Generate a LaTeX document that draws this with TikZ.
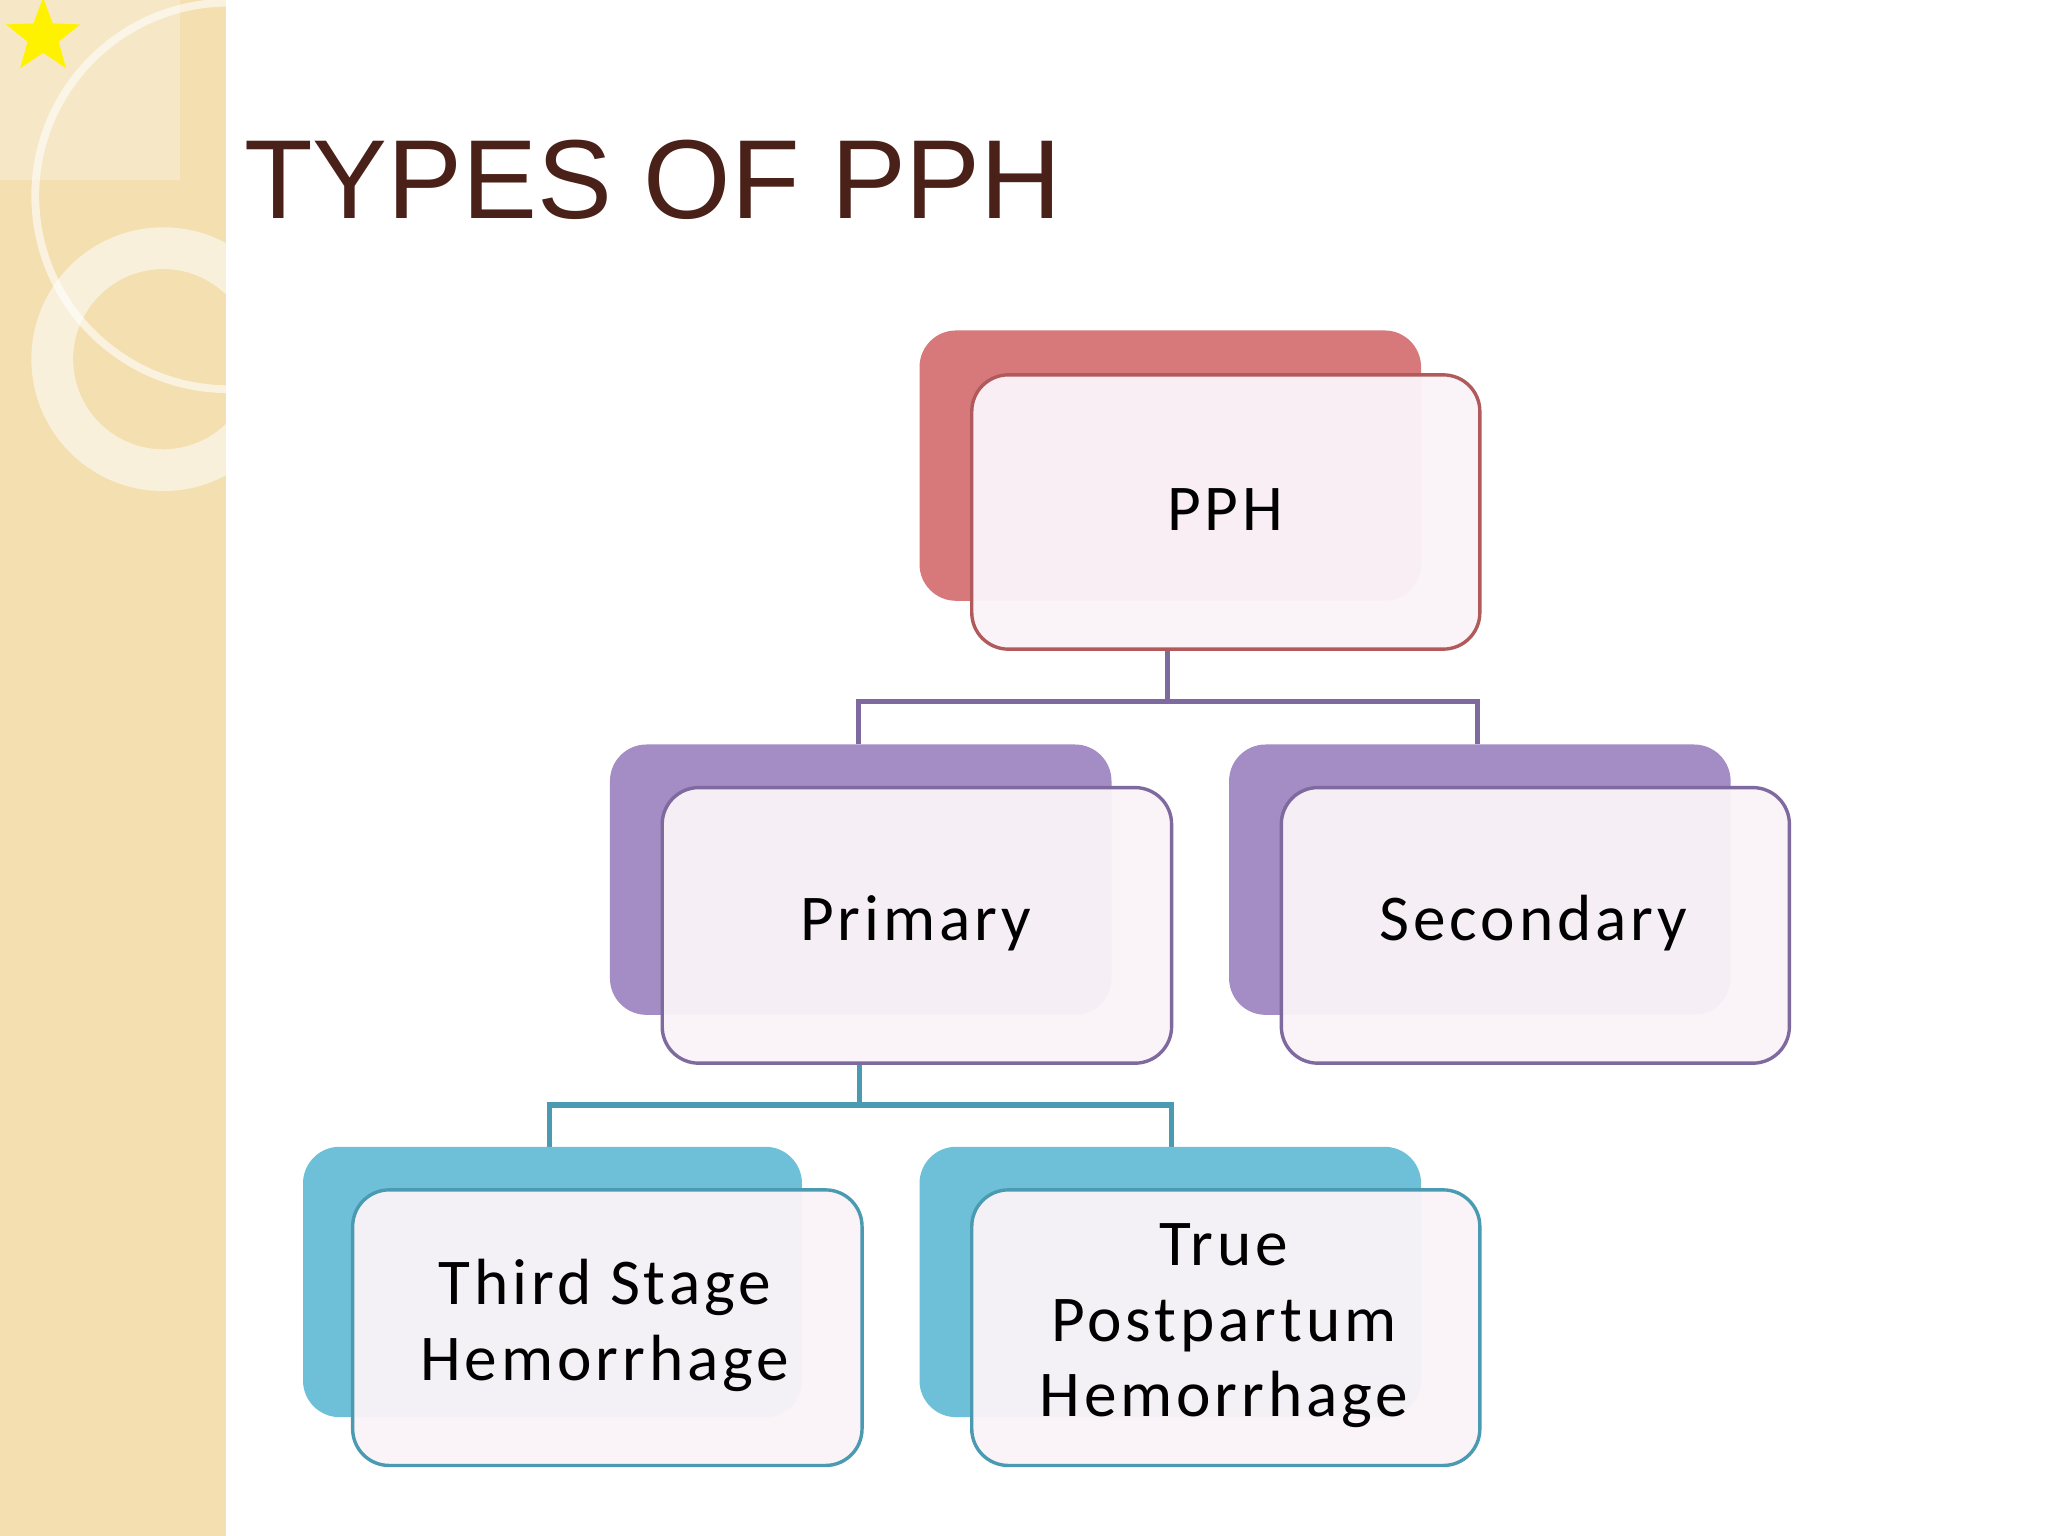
\documentclass[tikz,border=0pt]{standalone}
\usepackage{fontspec}
\setmainfont{Carlito}[LetterSpace=6]
\newfontfamily\titlefont{Liberation Sans}
\usetikzlibrary{shapes.geometric}
\definecolor{beige}{HTML}{F3DFB0}
\definecolor{titlebrown}{HTML}{4A2118}
\definecolor{redb}{HTML}{D7797B}
\definecolor{redo}{HTML}{B05A5C}
\definecolor{purb}{HTML}{A48CC4}
\definecolor{puro}{HTML}{7E6A9E}
\definecolor{blub}{HTML}{6EC0D8}
\definecolor{bluo}{HTML}{4A9AB2}
\definecolor{frontfill}{HTML}{FAF3F8}
\tikzset{
 backbox/.style={rounded corners=14pt},
 frontbox/.style={rounded corners=14pt, line width=1.3pt, fill=frontfill, fill opacity=0.96},
 lbl/.style={font=\fontsize{25}{29}\selectfont, text=black, align=center},
 conn/.style={line width=2pt}
}
\begin{document}
\begin{tikzpicture}[x=0.5pt,y=-0.5pt]
\useasboundingbox (0,0) rectangle (1568,1176);
\fill[white] (0,0) rectangle (1568,1176);
% left panel
\fill[beige] (0,0) rectangle (173,1176);
\fill[white, opacity=0.3] (0,0) rectangle (138,138);
\begin{scope}
\clip (0,0) rectangle (173,1176);
\draw[white, opacity=0.6, line width=3pt] (175,150) circle (148);
\draw[white, opacity=0.55, line width=16pt] (125,275) circle (85);
\end{scope}
\node[star, star points=5, star point ratio=2.4, fill=yellow, minimum size=30pt, inner sep=0] (star) at (33,28) {};
\node[anchor=west, text=titlebrown, font=\titlefont\fontsize{43}{50}\selectfont] (title) at (180,138) {TYPES OF PPH};
% connectors
\coordinate (j1) at (894,537);
\draw[conn, puro] (894,497) -- (j1) (657,570) |- (j1) -| (1131,570);
\coordinate (j2) at (658,846);
\draw[conn, bluo] (658,814) -- (j2) (421,878) |- (j2) -| (897,878);
% PPH
\fill[backbox, redb] (704,253) rectangle (1088,460);
\draw[frontbox, draw=redo] (744,287) rectangle (1133,497);
\node[lbl] (pph) at (938,390) {PPH};
% Primary
\fill[backbox, purb] (467,570) rectangle (851,777);
\draw[frontbox, draw=puro] (507,603) rectangle (897,814);
\node[lbl] (prim) at (701,707) {Primary};
% Secondary
\fill[backbox, purb] (941,570) rectangle (1325,777);
\draw[frontbox, draw=puro] (981,603) rectangle (1370,814);
\node[lbl] (sec) at (1174,707) {Secondary};
% Third
\fill[backbox, blub] (232,878) rectangle (614,1085);
\draw[frontbox, draw=bluo] (270,911) rectangle (660,1122);
\node[lbl] (third) at (463,1015) {Third Stage\\Hemorrhage};
% True
\fill[backbox, blub] (704,878) rectangle (1088,1085);
\draw[frontbox, draw=bluo] (744,911) rectangle (1133,1122);
\node[lbl] (true) at (937,1015) {True\\Postpartum\\Hemorrhage};
\end{tikzpicture}
\end{document}
